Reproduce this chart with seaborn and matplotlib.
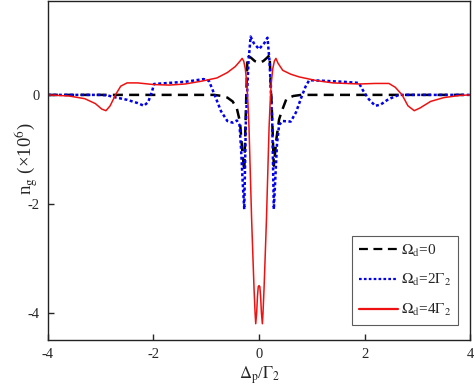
import numpy as np
import pandas as pd
import matplotlib
matplotlib.use("Agg")
import matplotlib.pyplot as plt
import seaborn as sns

# ---- data ----
x_black = [-4.0, -2.0, -1.0, -0.85, -0.7, -0.6, -0.5, -0.42, -0.36, -0.32, -0.28,
           -0.25, -0.22, -0.15, -0.08, 0.0, 0.08, 0.15, 0.20, 0.24, 0.28,
           0.33, 0.38, 0.43, 0.52, 0.65, 0.8, 1.0, 2.0, 4.0]
y_black = [0.0, 0.0, 0.0, 0.0, -0.02, -0.05, -0.12, -0.25, -0.5, -1.0, -1.4,
           -0.3, 0.72, 0.68, 0.62, 0.59, 0.62, 0.68, 0.73, -0.2, -1.3,
           -0.8, -0.45, -0.3, -0.07, -0.02, 0.0, 0.0, 0.0, 0.0]

x_blue = [-4.0, -3.0, -2.87, -2.7, -2.5, -2.3, -2.18, -2.1, -2.03, -1.99, -1.7, -1.4,
          -1.05, -0.95, -0.85, -0.72, -0.6, -0.5, -0.42, -0.37, -0.34, -0.31, -0.28,
          -0.25, -0.2, -0.16, -0.1, 0.0, 0.1, 0.16, 0.2, 0.25, 0.28,
          0.31, 0.34, 0.38, 0.45, 0.6, 0.7, 0.8, 0.88, 0.95, 1.2, 1.6,
          1.89, 1.97, 2.08, 2.2, 2.3, 2.45, 2.65, 3.0, 4.0]
y_blue = [0.0, 0.0, -0.01, -0.05, -0.09, -0.15, -0.2, -0.13, 0.05, 0.2, 0.22, 0.24,
          0.29, 0.26, 0.02, -0.3, -0.48, -0.51, -0.47, -0.55, -1.0, -1.6, -2.1,
          -0.5, 0.6, 1.07, 0.95, 0.84, 0.95, 1.05, 0.6, -0.5, -2.1,
          -1.5, -0.9, -0.55, -0.48, -0.49, -0.32, -0.05, 0.15, 0.27, 0.26, 0.24,
          0.22, 0.08, -0.08, -0.2, -0.18, -0.08, 0.0, 0.0, 0.0]

x_red = [-4.0, -3.6, -3.3, -3.1, -2.98, -2.9, -2.82, -2.72, -2.62, -2.5, -2.3,
         -2.0, -1.7, -1.4, -1.1, -0.8, -0.6, -0.45, -0.36, -0.32, -0.29, -0.26,
         -0.23, -0.21, -0.19, -0.165, -0.14, -0.115, -0.095, -0.075, -0.063, -0.045,
         -0.03, -0.015, 0.0, 0.015, 0.03, 0.045, 0.063, 0.075, 0.095, 0.115,
         0.14, 0.165, 0.19, 0.21, 0.23, 0.26, 0.29, 0.32, 0.36, 0.45, 0.6, 0.76,
         1.1, 1.4, 1.9, 2.2, 2.46, 2.58, 2.71, 2.82, 2.94, 3.05, 3.25, 3.5, 3.8, 4.0]
y_red = [0.0, -0.02, -0.07, -0.16, -0.26, -0.29, -0.2, 0.0, 0.16, 0.22, 0.22,
         0.19, 0.18, 0.2, 0.25, 0.31, 0.41, 0.52, 0.62, 0.67, 0.62, 0.48,
         0.2, -0.15, -0.6, -1.45, -2.3, -3.0, -3.55, -4.0, -4.2, -4.0,
         -3.7, -3.52, -3.5, -3.52, -3.7, -4.0, -4.2, -4.0, -3.55, -3.0,
         -2.3, -1.45, -0.6, -0.15, 0.2, 0.48, 0.62, 0.67, 0.58, 0.45, 0.38, 0.33,
         0.26, 0.22, 0.2, 0.21, 0.21, 0.14, 0.0, -0.2, -0.29, -0.24, -0.12, -0.05, -0.01, 0.0]

labels = [r'$\Omega_{\rm d}$=0', r'$\Omega_{\rm d}$=2$\Gamma_2$', r'$\Omega_{\rm d}$=4$\Gamma_2$']
x_ticks = [-4, -2, 0, 2, 4]
y_ticks = [0, -2, -4]

sns.set_style("ticks")
plt.rcParams['font.family'] = ['Liberation Serif', 'DejaVu Serif']
plt.rcParams['mathtext.fontset'] = 'stix'

fig = plt.figure(figsize=(4.74, 3.9), dpi=100)
ax = fig.add_axes([0.101, 0.128, 0.891, 0.869])

df_b = pd.DataFrame({'x': x_black, 'y': y_black})
df_u = pd.DataFrame({'x': x_blue, 'y': y_blue})
df_r = pd.DataFrame({'x': x_red, 'y': y_red})

sns.lineplot(data=df_b, x='x', y='y', ax=ax, sort=False, estimator=None,
             color='black', lw=1.8, label=labels[0])
sns.lineplot(data=df_u, x='x', y='y', ax=ax, sort=False, estimator=None,
             color='#0000ee', lw=1.8, label=labels[1])
sns.lineplot(data=df_r, x='x', y='y', ax=ax, sort=False, estimator=None,
             color='#ee1111', lw=1.1, label=labels[2])
lines = ax.get_lines()
lines[0].set_dashes([4, 2.5])
lines[1].set_dashes([1.2, 1.0])

ax.set_xlim(-4, 4)
ax.set_ylim(-4.5, 1.72)
ax.set_xticks(x_ticks)
ax.set_yticks(y_ticks)
ax.set_xticklabels([str(t) for t in x_ticks])
ax.set_yticklabels([str(t) for t in y_ticks])
ax.tick_params(direction='in', length=4, width=1, labelsize=10.5, pad=6)
for s in ax.spines.values():
    s.set_linewidth(1.0)
    s.set_color('#222222')

ax.set_xlabel(r'$\Delta_{\rm p}$/$\Gamma_2$', fontsize=12, labelpad=2)
ax.set_ylabel(r'n$_{\rm g}$ (×10$^6$)', fontsize=13.5, labelpad=2)
ax.yaxis.set_label_coords(-0.085, 0.535)
ax.yaxis.label.set_verticalalignment('top')

leg = ax.legend(loc='lower right', bbox_to_anchor=(0.972, 0.044), fontsize=11,
                frameon=True, fancybox=False, edgecolor='#333333',
                handlelength=2.6, handletextpad=0.2, borderpad=0.45,
                labelspacing=0.9, borderaxespad=0.0)
leg.get_frame().set_linewidth(0.8)
for h in leg.get_lines():
    h.set_linewidth(1.6)

fig.savefig('out.png', dpi=100)
